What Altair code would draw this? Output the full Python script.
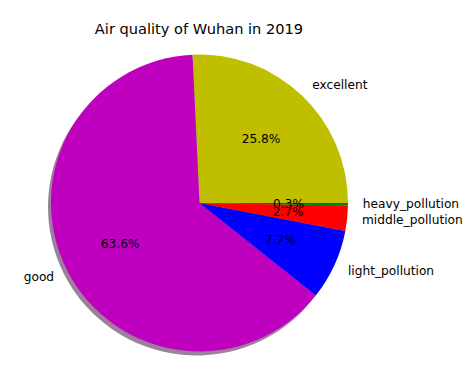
import math
import altair as alt
import pandas as pd

categories = ["excellent", "good", "light_pollution", "middle_pollution", "heavy_pollution"]
days = [94, 232, 28, 10, 1]
colors = ["#bfbf00", "#bf00bf", "#0000ff", "#ff0000", "#008000"]
shadow_colors = ["#9c9c80", "#9c809c", "#8080a6", "#a68080", "#809380"]
title_text = "Air quality of Wuhan in 2019"

df = pd.DataFrame({"category": categories, "days": days, "idx": list(range(len(categories)))})

CX, CY, R = 199.5, 203, 148.5
start = math.pi / 2
theta_scale = alt.Scale(range=[start, start + 2 * math.pi])
order = alt.Order("idx:Q", sort="descending")
font = "DejaVu Sans"

base = alt.Chart(df).transform_joinaggregate(total="sum(days)").transform_window(
    cum="sum(days)", sort=[alt.SortField("idx", order="descending")], frame=[None, 0]
).transform_calculate(
    pct="format(100 * datum.days / datum.total, '.1f') + '%'",
    ang=f"{start} + 2 * PI * (datum.cum - datum.days / 2) / datum.total",
).transform_calculate(
    labR="sin(datum.ang) >= 0 ? datum.category : ''",
    labL="sin(datum.ang) < 0 ? datum.category : ''",
)

theta = alt.Theta("days:Q", stack=True, scale=theta_scale)

shadow = base.mark_arc(outerRadius=R).encode(
    theta=theta, order=order,
    color=alt.Color("category:N", scale=alt.Scale(domain=categories, range=shadow_colors), legend=None),
    x=alt.value(CX - 3), y=alt.value(CY + 4),
)

pie = base.mark_arc(outerRadius=R).encode(
    theta=theta, order=order,
    fill=alt.Fill("category:N", scale=alt.Scale(domain=categories, range=colors), legend=None),
    x=alt.value(CX), y=alt.value(CY),
)

pct = base.mark_text(radius=R * 0.6, font=font, fontSize=12.2, color="black", baseline="middle", align="center").encode(
    theta=theta, order=order, text="pct:N", x=alt.value(CX), y=alt.value(CY),
)

labR = base.mark_text(radius=R * 1.1, font=font, fontSize=12.2, color="black", baseline="middle", align="left").encode(
    theta=theta, order=order, text="labR:N", x=alt.value(CX), y=alt.value(CY),
)
labL = base.mark_text(radius=R * 1.1, font=font, fontSize=12.2, color="black", baseline="middle", align="right").encode(
    theta=theta, order=order, text="labL:N", x=alt.value(CX), y=alt.value(CY),
)

title = alt.Chart(pd.DataFrame({"t": [title_text]})).mark_text(
    font=font, fontSize=14.6, color="black", baseline="middle", align="center"
).encode(text="t:N", x=alt.value(199), y=alt.value(29.5))

chart = alt.layer(shadow, pie, pct, labR, labL, title).resolve_scale(color="independent").properties(
    width=474, height=382, padding=0, autosize=alt.AutoSizeParams(type="none"), background="white"
).configure_view(stroke=None)

chart.save("out.html", embed_options={"renderer": "svg", "actions": False})
